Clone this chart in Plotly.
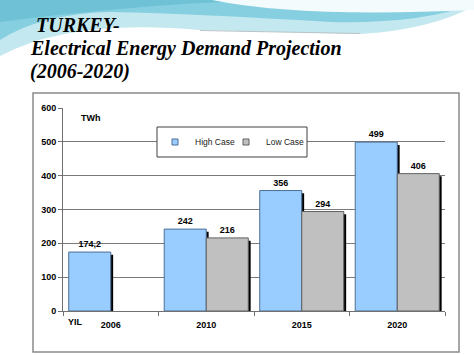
import plotly.graph_objects as go

# ---- data ----
years = ["2006", "2010", "2015", "2020"]
high_case = [174.2, 242, 356, 499]
low_case = [None, 216, 294, 406]
high_labels = ["174,2", "242", "356", "499"]
low_labels = ["", "216", "294", "406"]
y_ticks = [0, 100, 200, 300, 400, 500, 600]

W, H = 474, 355
ML, MR, MT, MB = 63, 29, 108, 44
PW, PH = W - ML - MR, H - MT - MB


def px(x):
    return (x - ML) / PW


def py(y):
    return (H - MB - y) / PH


def path(points_cmds):
    out = []
    for cmd, pts in points_cmds:
        s = cmd
        s += " ".join(f"{px(a):.4f},{py(b):.4f}" for a, b in pts)
        out.append(s)
    return " ".join(out) + " Z"


BAR_W = 0.44
SH_DX = 0.025
SH_DY = 8  # shadow drop in value units

HIGH_COL, HIGH_LINE = "#99CCFF", "#4d6f96"
LOW_COL, LOW_LINE = "#C0C0C0", "#606060"
lab_font = dict(family="Liberation Sans", size=9, color="black", weight="bold")

fig = go.Figure()


def shadow(vals):
    return [None if v is None else v - SH_DY for v in vals]


fig.add_trace(go.Bar(x=years, y=shadow(high_case), width=BAR_W, offset=-BAR_W + SH_DX,
                     marker=dict(color="black", line=dict(width=0)),
                     showlegend=False, hoverinfo="skip"))
fig.add_trace(go.Bar(x=years, y=high_case, width=BAR_W, offset=-BAR_W, name="High Case",
                     marker=dict(color=HIGH_COL, line=dict(color=HIGH_LINE, width=1)),
                     text=high_labels, textposition="outside", cliponaxis=False,
                     textfont=lab_font, showlegend=False))
fig.add_trace(go.Bar(x=years, y=shadow(low_case), width=BAR_W, offset=SH_DX,
                     marker=dict(color="black", line=dict(width=0)),
                     showlegend=False, hoverinfo="skip"))
fig.add_trace(go.Bar(x=years, y=low_case, width=BAR_W, offset=0, name="Low Case",
                     marker=dict(color=LOW_COL, line=dict(color=LOW_LINE, width=1)),
                     text=low_labels, textposition="outside", cliponaxis=False,
                     textfont=lab_font, showlegend=False))
# legend-only entries (small square symbols like the original)
for nm, col, ln, lg in [("High Case", HIGH_COL, HIGH_LINE, "legend"),
                        ("Low Case", LOW_COL, LOW_LINE, "legend2")]:
    fig.add_trace(go.Scatter(x=[None], y=[None], mode="markers", name=nm, legend=lg,
                             marker=dict(symbol="square", size=6, color=col,
                                         line=dict(color=ln, width=1))))

shapes = [
    # light cyan background band
    dict(type="path", xref="paper", yref="paper", layer="below", line=dict(width=0),
         fillcolor="#c4e8ef",
         path=path([("M", [(0, 0)]), ("L", [(474, 0)]), ("L", [(474, 6)]),
                    ("Q", [(430, 30), (360, 34)]), ("L", [(200, 30)]),
                    ("Q", [(70, 18), (0, 56)])])),
    # darker teal at top
    dict(type="path", xref="paper", yref="paper", layer="below", line=dict(width=0),
         fillcolor="#86cfe0",
         path=path([("M", [(0, 0)]), ("L", [(474, 0)]), ("L", [(474, 4)]),
                    ("Q", [(420, 24), (330, 22)]), ("Q", [(200, 14), (110, 12)]),
                    ("Q", [(40, 14), (0, 40)])])),
    # teal top-left
    dict(type="path", xref="paper", yref="paper", layer="below", line=dict(width=0),
         fillcolor="#6fc2d6",
         path=path([("M", [(0, 0)]), ("L", [(260, 0)]),
                    ("Q", [(120, 6), (0, 22)])])),
    # white swoosh highlight
    dict(type="path", xref="paper", yref="paper", layer="below", line=dict(width=0),
         fillcolor="#f4fbfd",
         path=path([("M", [(212, 0)]), ("Q", [(300, 18), (474, 10)]),
                    ("L", [(474, 0)])])),
    # thin gray line under band
    dict(type="line", xref="paper", yref="paper", layer="below",
         x0=px(200), y0=py(30.5), x1=px(360), y1=py(33.5),
         line=dict(color="#b8c4c8", width=1)),
    # chart frame
    dict(type="rect", xref="paper", yref="paper", layer="below",
         x0=px(33), y0=py(352), x1=px(459), y1=py(93),
         line=dict(color="#8a8a8a", width=1.5), fillcolor="white"),
    # legend box
    dict(type="rect", xref="paper", yref="paper", layer="above",
         x0=px(157), y0=py(157), x1=px(307), y1=py(127),
         line=dict(color="#404040", width=1), fillcolor="white"),
]

title_font = dict(family="Liberation Serif", size=20, color="black", style="italic", weight="bold")
annotations = [
    dict(text="TURKEY-", x=px(34), y=py(12), xref="paper", yref="paper",
         xanchor="left", yanchor="top", showarrow=False, font=title_font),
    dict(text="Electrical Energy Demand Projection", x=px(28), y=py(35), xref="paper", yref="paper",
         xanchor="left", yanchor="top", showarrow=False, font=title_font),
    dict(text="(2006-2020)", x=px(28), y=py(58), xref="paper", yref="paper",
         xanchor="left", yanchor="top", showarrow=False, font=title_font),
    dict(text="TWh", x=px(79), y=py(118), xref="paper", yref="paper",
         xanchor="left", yanchor="middle", showarrow=False, font=lab_font),
    dict(text="YIL", x=px(66), y=py(322), xref="paper", yref="paper",
         xanchor="left", yanchor="middle", showarrow=False, font=lab_font),
]

leg_common = dict(orientation="h", xanchor="left", yanchor="middle",
                  bgcolor="rgba(0,0,0,0)", borderwidth=0,
                  font=dict(family="Liberation Sans", size=8.5, color="#222222"),
                  itemwidth=30)

fig.update_layout(
    width=W, height=H,
    margin=dict(l=ML, r=MR, t=MT, b=MB, pad=0),
    paper_bgcolor="white", plot_bgcolor="rgba(0,0,0,0)",
    barmode="overlay",
    showlegend=True,
    legend=dict(x=px(155), y=py(142), **leg_common),
    legend2=dict(x=px(226), y=py(142), **leg_common),
    shapes=shapes,
    annotations=annotations,
    xaxis=dict(type="category", showline=True, linecolor="#707070", linewidth=1,
               ticks="outside", tickson="boundaries", ticklen=4, tickcolor="#707070",
               tickfont=lab_font, ticklabelstandoff=5, showgrid=False),
    yaxis=dict(range=[0, 600], tickvals=y_ticks, showline=True, linecolor="#707070",
               linewidth=1, ticks="outside", ticklen=4, tickcolor="#707070",
               showgrid=True, gridcolor="#7a7a7a", gridwidth=1, zeroline=False,
               tickfont=lab_font),
)

fig.write_html("out.html", config={"displayModeBar": False},
               post_script="document.body.style.margin='0';document.body.style.overflow='hidden';")
